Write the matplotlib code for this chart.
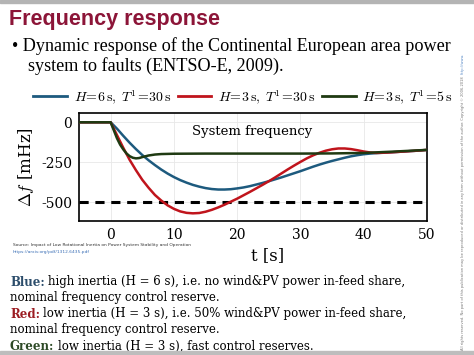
import numpy as np
import matplotlib
matplotlib.use('Agg')
import matplotlib.pyplot as plt
from matplotlib.patches import Rectangle
from matplotlib.lines import Line2D

# data (time in s, frequency deviation in mHz)
t_blue = [-5, 0, 1, 2, 3, 4, 5, 6, 7, 8, 9, 10, 11, 12, 13, 14, 15, 16, 17, 18, 19,
          20, 21, 22, 23, 24, 25, 26, 27, 28, 29, 30, 31, 32, 33, 34, 35, 36, 37,
          38, 39, 40, 41, 42, 44, 46, 48, 50]
df_blue = [0, 0, -40, -85, -128, -168, -205, -238, -268, -296, -321, -343, -362,
           -378, -392, -403, -412, -418, -421, -421, -419, -414, -408, -400, -390,
           -380, -369, -357, -345, -332, -319, -306, -292, -278, -265, -253, -242,
           -232, -222, -213, -206, -200, -196, -193, -189, -184, -179, -173]

t_red = [-5, 0, 1, 2, 3, 4, 5, 6, 7, 8, 9, 10, 11, 12, 13, 14, 15, 16, 17, 18, 19,
         20, 21, 22, 23, 24, 25, 26, 27, 28, 29, 30, 31, 32, 33, 34, 35, 36, 37,
         38, 39, 40, 41, 42, 44, 46, 48, 50]
df_red = [0, 0, -80, -160, -235, -300, -360, -410, -455, -490, -520, -542, -558,
          -567, -570, -568, -560, -548, -533, -516, -497, -478, -457, -436, -414,
          -392, -369, -345, -320, -295, -271, -248, -226, -207, -191, -178, -169,
          -164, -164, -168, -175, -183, -189, -192, -189, -184, -179, -173]

t_green = [-5, 0, 0.5, 1, 1.5, 2, 2.5, 3, 3.5, 4, 4.5, 5, 6, 7, 8, 10, 15, 20, 25,
           30, 35, 40, 45, 50]
df_green = [0, 0, -50, -100, -140, -170, -195, -212, -222, -226, -224, -218, -208,
            -202, -199, -197, -196, -196, -196, -196, -195, -192, -183, -173]

limit_level = -500
x_ticks = [0, 10, 20, 30, 40, 50]
y_ticks = [0, -250, -500]
y_ticklabels = ['0', '-250', '-500']

legend_labels = [r'$H\!=\!6\,\mathrm{s},\;T^1\!=\!30\,\mathrm{s}$',
                 r'$H\!=\!3\,\mathrm{s},\;T^1\!=\!30\,\mathrm{s}$',
                 r'$H\!=\!3\,\mathrm{s},\;T^1\!=\!5\,\mathrm{s}$']

c_blue = '#1d5a7e'
c_red = '#c0141c'
c_green = '#1f3a12'

W, H = 474, 355
plt.rcParams['mathtext.fontset'] = 'cm'

fig = plt.figure(figsize=(W / 100, H / 100), dpi=100)
fig.patch.set_facecolor('white')


def fx(px):
    return px / W


def fy(py):
    return 1 - py / H


# grey slide borders
fig.patches.append(Rectangle((0, fy(3)), 1, 3 / H, transform=fig.transFigure,
                             color='#b4b4b4', zorder=0))
fig.patches.append(Rectangle((0, 0), 1, 4 / H, transform=fig.transFigure,
                             color='#bdbdbd', zorder=0))

# title and bullet
fig.text(fx(9), fy(19), 'Frequency response', color='#8c1538', fontsize=15.5,
         fontweight='bold', family='Liberation Sans', va='center', ha='left')
fig.text(fx(12), fy(46), '\u2022 Dynamic response of the Continental European area power',
         fontsize=13.1, family='Liberation Serif', va='center', ha='left')
fig.text(fx(28), fy(66), 'system to faults (ENTSO-E, 2009).',
         fontsize=13.1, family='Liberation Serif', va='center', ha='left')

# plot
ax = fig.add_axes([fx(79), fy(221), fx(427 - 79), (221 - 113) / H])
ax.plot(t_blue, df_blue, color=c_blue, lw=1.8, zorder=3)
ax.plot(t_red, df_red, color=c_red, lw=1.8, zorder=3)
ax.plot(t_green, df_green, color=c_green, lw=1.8, zorder=4)
ax.axhline(limit_level, color='black', lw=2.2, ls=(0, (3, 2.2)), zorder=2)
ax.set_xlim(-5, 50)
ax.set_ylim(-618, 58)
ax.set_xticks(x_ticks)
ax.set_yticks(y_ticks)
ax.set_yticklabels(y_ticklabels)
ax.grid(True, color='#e8e8e8', lw=0.6)
ax.tick_params(length=0, labelsize=10, pad=5)
for lab in ax.get_xticklabels() + ax.get_yticklabels():
    lab.set_family('DejaVu Serif')
for sp in ax.spines.values():
    sp.set_linewidth(1.2)
ax.text(22.3, -55, 'System frequency', fontsize=9.5, family='DejaVu Serif',
        ha='center', va='center')
ax.set_ylabel(r'$\Delta f$ [mHz]', fontsize=12, family='DejaVu Serif', labelpad=4)

fig.text(fx(268), fy(256), 't [s]', fontsize=12, family='DejaVu Serif',
         ha='center', va='center')

# legend above the axes
handles = [Line2D([], [], color=c, lw=2) for c in (c_blue, c_red, c_green)]
fig.legend(handles, legend_labels, loc='center', bbox_to_anchor=(fx(243), fy(97)),
           ncol=3, frameon=False, fontsize=10, handlelength=2.4,
           handletextpad=0.5, columnspacing=0.5)

# source note
fig.text(fx(13), fy(245), 'Source: Impact of Low Rotational Inertia on Power System Stability and Operation',
         fontsize=3.2, family='DejaVu Sans', va='center', color='#333333')
fig.text(fx(13), fy(252), 'https://arxiv.org/pdf/1312.6435.pdf',
         fontsize=3.2, family='DejaVu Sans', va='center', color='#3b6fb6')

# explanation lines
hax = fig.add_axes([0, 0, 1, 1])
hax.set_axis_off()
txt_font = 'DejaVu Serif'
txt_size = 8.5
rows = [
    ('Blue:', '#2c4d6b', 'high inertia (H = 6 s), i.e. no wind&PV power in-feed share,', 282),
    (None, None, 'nominal frequency control reserve.', 298),
    ('Red:', '#9c1c22', 'low inertia (H = 3 s), i.e. 50% wind&PV power in-feed share,', 314),
    (None, None, 'nominal frequency control reserve.', 330),
    ('Green:', '#2d4a26', 'low inertia (H = 3 s), fast control reserves.', 346),
]
for key, col, rest, py in rows:
    if key is None:
        hax.text(fx(10), fy(py), rest, fontsize=txt_size, family=txt_font,
                 va='center', ha='left', transform=hax.transAxes)
        continue
    k = hax.text(fx(10), fy(py), key, fontsize=txt_size, family=txt_font, color=col,
                 fontweight='bold', va='center', ha='left', transform=hax.transAxes)
    hax.annotate(rest, xy=(1, 0), xycoords=k, xytext=(2.5, 0),
                 textcoords='offset points', fontsize=txt_size, family=txt_font,
                 va='bottom', ha='left')

# copyright note on the right edge
note = hax.text(fx(463), fy(350), 'All rights reserved. No part of this publication may be '
                'reproduced or distributed in any form without permission of the author. '
                'Copyright \u00a9 2006-2018',
                rotation=90, fontsize=2.6, family='DejaVu Sans', color='#777777',
                ha='center', va='bottom', transform=hax.transAxes)
hax.annotate('http://www.', xy=(0.5, 1), xycoords=note, xytext=(0, 2),
             textcoords='offset points', rotation=90, fontsize=2.6,
             family='DejaVu Sans', color='#5b8cc8', ha='center', va='bottom')

fig.savefig('out.png', dpi=100)
